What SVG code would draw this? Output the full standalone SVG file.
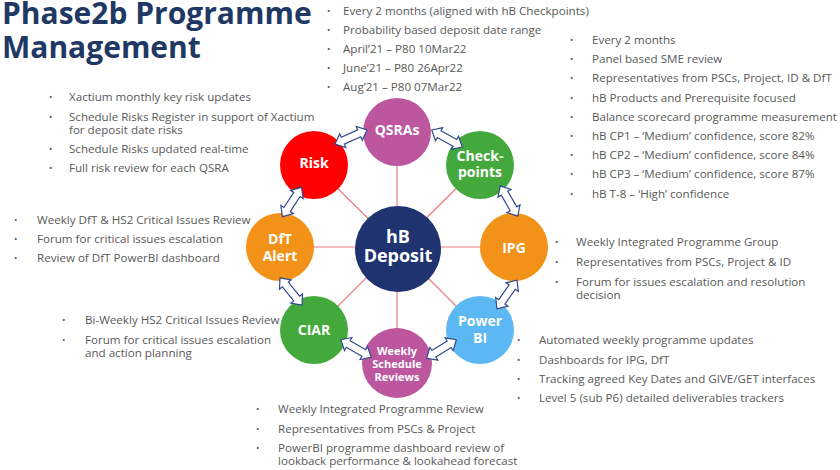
<svg xmlns="http://www.w3.org/2000/svg" width="840" height="470" viewBox="0 0 840 470">
<defs>
<path id="dbl" d="M-17.5,0 L-9,-7.5 L-9,-3.8 L9,-3.8 L9,-7.5 L17.5,0 L9,7.5 L9,3.8 L-9,3.8 L-9,7.5 Z"/>
</defs>
<style>
.title{font-family:"Open Sans","DejaVu Sans",sans-serif;font-weight:700;font-size:30px;fill:#1f3864}
.b{font-family:"Open Sans","DejaVu Sans",sans-serif;font-size:11.6px;fill:#595959}
.d{font-size:9px}
.lbl{font-family:"Open Sans","DejaVu Sans",sans-serif;font-weight:700;fill:#ffffff;text-anchor:middle}
.spoke{stroke:#ec7a80;stroke-width:1.2}
.arr{fill:#ffffff;stroke:#2f4a8c;stroke-width:1.2}
.mag{fill:#bb569f}.red{fill:#ff0000}.grn{fill:#44a93d}.org{fill:#f39219}.blu{fill:#5cb8f2}.nav{fill:#1e3370}
</style>
<rect width="840" height="470" fill="#ffffff"/>
<text class="title" x="2" y="24">Phase2b Programme</text>
<text class="title" x="2" y="58">Management</text>

<g id="connectors">
<line class="spoke" x1="397" y1="247" x2="397" y2="132"/>
<line class="spoke" x1="397" y1="247" x2="480" y2="165"/>
<line class="spoke" x1="397" y1="247" x2="514" y2="247"/>
<line class="spoke" x1="397" y1="247" x2="480" y2="330"/>
<line class="spoke" x1="397" y1="247" x2="397" y2="363"/>
<line class="spoke" x1="397" y1="247" x2="314" y2="330"/>
<line class="spoke" x1="397" y1="247" x2="280" y2="247"/>
<line class="spoke" x1="397" y1="247" x2="314" y2="165"/>
</g>

<g id="n-center"><circle class="nav" cx="398" cy="249" r="43"/>
<text class="lbl" x="398" y="243" font-size="18">hB</text>
<text class="lbl" x="398" y="262" font-size="18">Deposit</text></g>
<g id="n-qsras"><circle class="mag" cx="397" cy="132" r="34"/><text class="lbl" x="397" y="135" font-size="14">QSRAs</text></g>
<g id="n-risk"><circle class="red" cx="314" cy="165" r="34"/><text class="lbl" x="314" y="168" font-size="14">Risk</text></g>
<g id="n-check"><circle class="grn" cx="480" cy="165" r="34"/><text class="lbl" x="480" y="161" font-size="14">Check-</text><text class="lbl" x="480" y="176.5" font-size="14">points</text></g>
<g id="n-dft"><circle class="org" cx="280" cy="247" r="34"/><text class="lbl" x="280" y="243.5" font-size="14">DfT</text><text class="lbl" x="280" y="260.5" font-size="14">Alert</text></g>
<g id="n-ipg"><circle class="org" cx="514" cy="247" r="34"/><text class="lbl" x="514" y="252.5" font-size="14">IPG</text></g>
<g id="n-ciar"><circle class="grn" cx="314" cy="330" r="34"/><text class="lbl" x="314" y="334.5" font-size="14">CIAR</text></g>
<g id="n-pbi"><circle class="blu" cx="480" cy="330" r="34"/><text class="lbl" x="480" y="326" font-size="14">Power</text><text class="lbl" x="480" y="342.5" font-size="14">BI</text></g>
<g id="n-wsr"><circle class="mag" cx="397" cy="363" r="35"/><text class="lbl" x="397" y="354.5" font-size="11">Weekly</text><text class="lbl" x="397" y="368" font-size="11">Schedule</text><text class="lbl" x="397" y="380.5" font-size="11">Reviews</text></g>

<g id="arrows">
<use href="#dbl" class="arr" transform="translate(351,137) rotate(-24)"/>
<use href="#dbl" class="arr" transform="translate(447,138.5) rotate(29)"/>
<use href="#dbl" class="arr" transform="translate(509,201) rotate(60)"/>
<use href="#dbl" class="arr" transform="translate(507,294.5) rotate(125)"/>
<use href="#dbl" class="arr" transform="translate(441.5,349) rotate(148)"/>
<use href="#dbl" class="arr" transform="translate(356,348.5) rotate(30)"/>
<use href="#dbl" class="arr" transform="translate(291,291.5) rotate(51)"/>
<use href="#dbl" class="arr" transform="translate(292,202) rotate(-57)"/>
</g>

<g id="t-qsras" class="b">
<text class="d" x="327" y="14">•</text><text x="343" y="15">Every 2 months (aligned with hB Checkpoints)</text>
<text class="d" x="327" y="33">•</text><text x="343" y="34">Probability based deposit date range</text>
<text class="d" x="327" y="52">•</text><text x="343" y="53">April’21 – P80 10Mar22</text>
<text class="d" x="327" y="71">•</text><text x="343" y="72">June’21 – P80 26Apr22</text>
<text class="d" x="327" y="90">•</text><text x="343" y="91">Aug’21 – P80 07Mar22</text>
</g>
<g id="t-check" class="b">
<text class="d" x="570" y="43">•</text><text x="592" y="44">Every 2 months</text>
<text class="d" x="570" y="62">•</text><text x="592" y="63">Panel based SME review</text>
<text class="d" x="570" y="81">•</text><text x="592" y="82">Representatives from PSCs, Project, ID &amp; DfT</text>
<text class="d" x="570" y="100.5">•</text><text x="592" y="101.5">hB Products and Prerequisite focused</text>
<text class="d" x="570" y="120">•</text><text x="592" y="121">Balance scorecard programme measurement</text>
<text class="d" x="570" y="139">•</text><text x="592" y="140">hB CP1 – ‘Medium’ confidence, score 82%</text>
<text class="d" x="570" y="158">•</text><text x="592" y="159">hB CP2 – ‘Medium’ confidence, score 84%</text>
<text class="d" x="570" y="177">•</text><text x="592" y="178">hB CP3 – ‘Medium’ confidence, score 87%</text>
<text class="d" x="570" y="197">•</text><text x="592" y="198">hB T-8 – ‘High’ confidence</text>
</g>
<g id="t-risk" class="b">
<text class="d" x="49" y="100">•</text><text x="69" y="101">Xactium monthly key risk updates</text>
<text class="d" x="49" y="120">•</text><text x="69" y="121">Schedule Risks Register in support of Xactium</text>
<text x="69" y="133.5">for deposit date risks</text>
<text class="d" x="49" y="151.5">•</text><text x="69" y="152.5">Schedule Risks updated real-time</text>
<text class="d" x="49" y="171">•</text><text x="69" y="172">Full risk review for each QSRA</text>
</g>
<g id="t-dft" class="b">
<text class="d" x="14" y="223">•</text><text x="37" y="224">Weekly DfT &amp; HS2 Critical Issues Review</text>
<text class="d" x="14" y="242">•</text><text x="37" y="243">Forum for critical issues escalation</text>
<text class="d" x="14" y="261">•</text><text x="37" y="262">Review of DfT PowerBI dashboard</text>
</g>
<g id="t-ipg" class="b">
<text class="d" x="555" y="245">•</text><text x="576" y="246">Weekly Integrated Programme Group</text>
<text class="d" x="555" y="265">•</text><text x="576" y="266">Representatives from PSCs, Project &amp; ID</text>
<text class="d" x="555" y="285">•</text><text x="576" y="286">Forum for issues escalation and resolution</text>
<text x="576" y="299">decision</text>
</g>
<g id="t-pbi" class="b">
<text class="d" x="517" y="343">•</text><text x="539" y="344">Automated weekly programme updates</text>
<text class="d" x="517" y="362.5">•</text><text x="539" y="363.5">Dashboards for IPG, DfT</text>
<text class="d" x="517" y="381.5">•</text><text x="539" y="382.5">Tracking agreed Key Dates and GIVE/GET interfaces</text>
<text class="d" x="517" y="401">•</text><text x="539" y="402">Level 5 (sub P6) detailed deliverables trackers</text>
</g>
<g id="t-ciar" class="b">
<text class="d" x="62" y="323">•</text><text x="85" y="324">Bi-Weekly HS2 Critical Issues Review</text>
<text class="d" x="62" y="342.5">•</text><text x="85" y="343.5">Forum for critical issues escalation</text>
<text x="85" y="357">and action planning</text>
</g>
<g id="t-wsr" class="b">
<text class="d" x="256" y="412">•</text><text x="278" y="413">Weekly Integrated Programme Review</text>
<text class="d" x="256" y="431.5">•</text><text x="278" y="432.5">Representatives from PSCs &amp; Project</text>
<text class="d" x="256" y="450.5">•</text><text x="278" y="451.5">PowerBI programme dashboard review of</text>
<text x="278" y="465">lookback performance &amp; lookahead forecast</text>
</g>
</svg>
